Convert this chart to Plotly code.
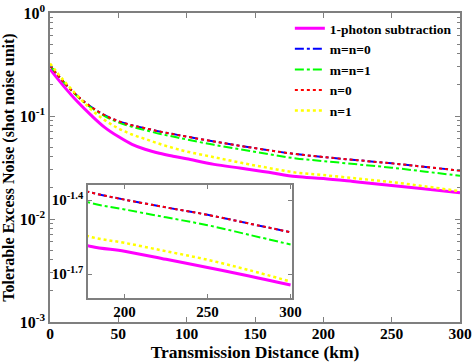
import plotly.graph_objects as go

# ---- data ----
distance_km = [0, 10, 20, 30, 40, 50, 60, 70, 80, 90, 100, 120, 140, 160, 180, 200, 225, 250, 275, 300]

photon_subtraction_1 = [0.285, 0.195, 0.138, 0.102, 0.0776, 0.0631, 0.0531, 0.0473, 0.0435, 0.0407,
                        0.0384, 0.0339, 0.0311, 0.0284, 0.0258, 0.0247, 0.0229, 0.0212, 0.0196, 0.0180]
m_n_0 = [0.309, 0.214, 0.157, 0.123, 0.102, 0.0891, 0.0813, 0.0759, 0.0708, 0.0668,
         0.0631, 0.0565, 0.0511, 0.0465, 0.0427, 0.0400, 0.0372, 0.0347, 0.0320, 0.0295]
m_n_1 = [0.309, 0.213, 0.155, 0.121, 0.100, 0.0867, 0.0785, 0.0728, 0.0673, 0.0631,
         0.0592, 0.0525, 0.0473, 0.0427, 0.0387, 0.0365, 0.0339, 0.0315, 0.0288, 0.0263]
n_0 = [0.309, 0.214, 0.157, 0.123, 0.102, 0.0891, 0.0813, 0.0759, 0.0708, 0.0668,
       0.0631, 0.0565, 0.0511, 0.0465, 0.0427, 0.0400, 0.0372, 0.0347, 0.0320, 0.0295]
n_1 = [0.324, 0.221, 0.158, 0.116, 0.0912, 0.0759, 0.0661, 0.0596, 0.0537, 0.0490,
       0.0452, 0.0398, 0.0351, 0.0313, 0.0282, 0.0267, 0.0247, 0.0228, 0.0207, 0.0186]

series_names = ["1-photon subtraction", "m=n=0", "m=n=1", "n=0", "n=1"]
series_values = [photon_subtraction_1, m_n_0, m_n_1, n_0, n_1]

main_x_ticks = [0, 50, 100, 150, 200, 250, 300]
main_y_ticks = [1e-3, 1e-2, 1e-1, 1]
main_y_ticktext = ["10<sup>-3</sup>", "10<sup>-2</sup>", "10<sup>-1</sup>", "10<sup>0</sup>"]
inset_x_ticks = [200, 250, 300]
inset_y_ticks = [10 ** -1.4, 10 ** -1.7]
inset_y_ticktext = ["10<sup>-1.4</sup>", "10<sup>-1.7</sup>"]

# ---- styles ----
colors = ["#FF00FF", "#0000FF", "#00FF00", "#FF0000", "#FFFF00"]
dashes = ["solid", "dashdot", "dashdot", "dot", "dot"]
widths = [3, 2, 2, 2, 2.5]

FONT = "Liberation Serif"
AX = "#7f7f7f"

fig = go.Figure()
for name, vals, c, d, w in zip(series_names, series_values, colors, dashes, widths):
    fig.add_trace(go.Scatter(x=distance_km, y=vals, name=name, mode="lines",
                             line=dict(color=c, dash=d, width=w, shape="spline", smoothing=1.0),
                             xaxis="x", yaxis="y"))
for name, vals, c, d, w in zip(series_names, series_values, colors, dashes, widths):
    fig.add_trace(go.Scatter(x=distance_km, y=vals, name=name, mode="lines", showlegend=False,
                             line=dict(color=c, dash=d, width=w, shape="spline", smoothing=1.0),
                             xaxis="x2", yaxis="y2"))

minor_vals = [k * 10 ** e for e in (-3, -2, -1) for k in range(2, 10)]

fig.update_layout(
    width=474, height=362,
    margin=dict(l=50, r=14, t=13, b=40, autoexpand=False),
    paper_bgcolor="white", plot_bgcolor="white",
    font=dict(family=FONT, size=15, color="black", weight="bold"),
    showlegend=True,
    legend=dict(x=0.585, y=1.0, xanchor="left", yanchor="top",
                bgcolor="rgba(0,0,0,0)", borderwidth=0,
                font=dict(family=FONT, size=13.5, color="black", weight="bold")),
    xaxis=dict(domain=[0, 1], range=[0, 300], tickvals=main_x_ticks, automargin=False,
               ticks="inside", ticklen=5, tickcolor=AX, showline=True, linecolor=AX, linewidth=1.5,
               mirror="ticks", showgrid=False, zeroline=False, ticklabelstandoff=-3,
               tickfont=dict(family=FONT, size=15.5, weight="bold"),
               title=dict(text="Transmission Distance (km)", standoff=0,
                          font=dict(family=FONT, size=17.5, weight="bold"))),
    yaxis=dict(domain=[0, 1], type="log", range=[-3, 0], tickvals=main_y_ticks, ticktext=main_y_ticktext,
               automargin=False,
               ticks="inside", ticklen=5, tickcolor=AX, showline=True, linecolor=AX, linewidth=1.5,
               mirror="ticks", showgrid=False, zeroline=False,
               minor=dict(tickvals=minor_vals, ticks="inside", ticklen=3, tickcolor=AX, showgrid=False),
               tickfont=dict(family=FONT, size=16, weight="bold"),
               title=dict(text="Tolerable Excess Noise (shot noise unit)", standoff=2,
                          font=dict(family=FONT, size=16, weight="bold"))),
    xaxis2=dict(domain=[0.0927, 0.590], anchor="y2", range=[178, 300.8], tickvals=inset_x_ticks,
                automargin=False,
                ticks="inside", ticklen=4, tickcolor=AX, showline=True, linecolor=AX, linewidth=1.5,
                mirror="ticks", showgrid=False, zeroline=False,
                tickfont=dict(family=FONT, size=15, weight="bold")),
    yaxis2=dict(domain=[0.0786, 0.443], anchor="x2", type="log", range=[-1.796, -1.339],
                tickvals=inset_y_ticks, ticktext=inset_y_ticktext, automargin=False,
                ticks="inside", ticklen=4, tickcolor=AX, showline=True, linecolor=AX, linewidth=1.5,
                mirror="ticks", showgrid=False, zeroline=False,
                tickfont=dict(family=FONT, size=15, weight="bold")),
)

fig.write_html("out.html", config={"displayModeBar": False},
               post_script="document.body.style.margin='0px';document.body.style.overflow='hidden';")
